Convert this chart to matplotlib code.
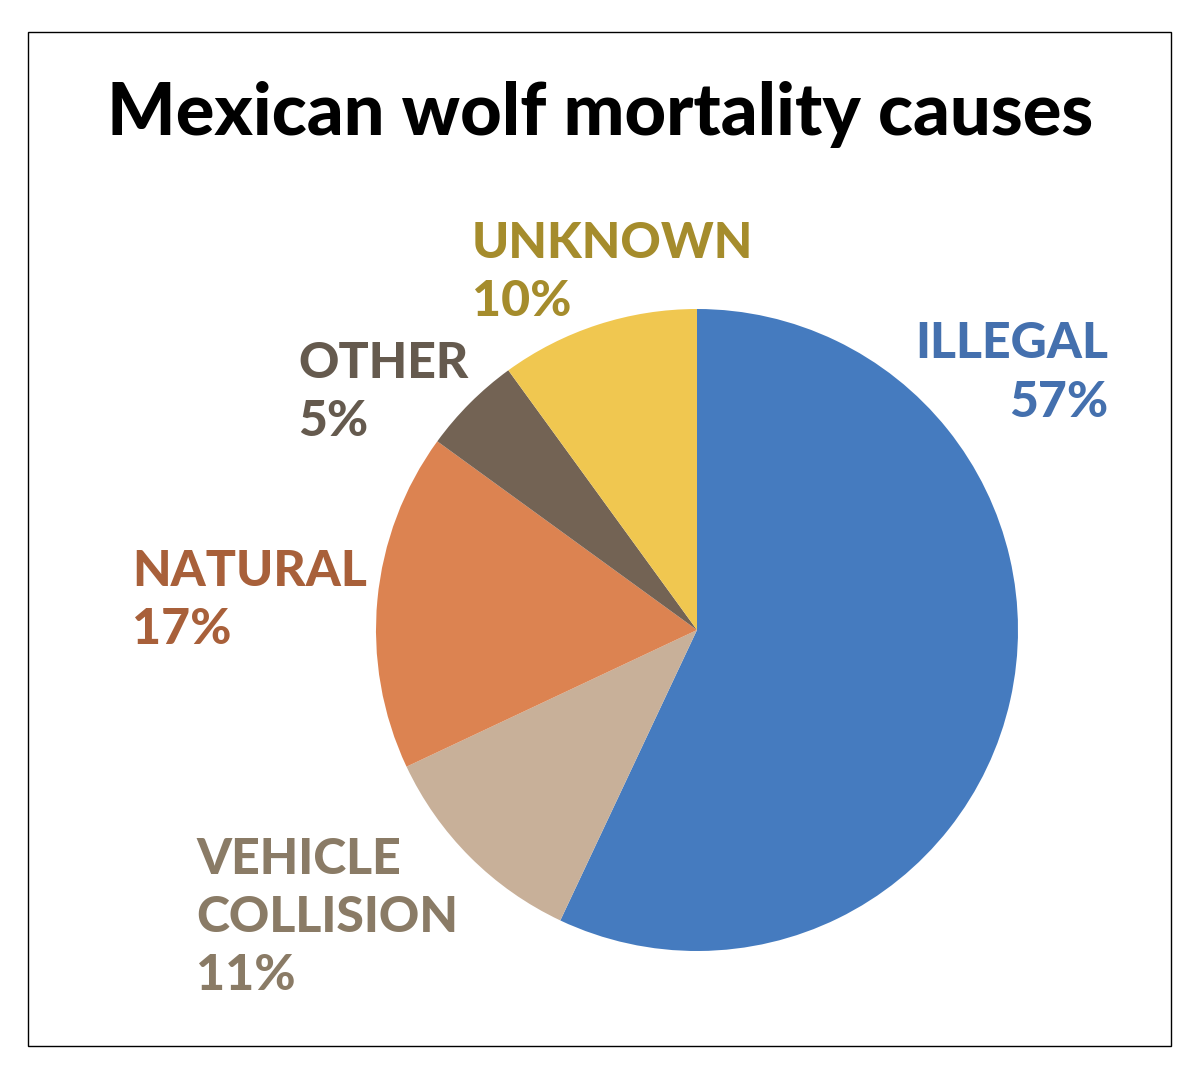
import matplotlib.pyplot as plt
from matplotlib.patches import Rectangle

causes = ["ILLEGAL", "VEHICLE\nCOLLISION", "NATURAL", "OTHER", "UNKNOWN"]
shares = [57, 11, 17, 5, 10]
slice_colors = ["#457BBF", "#C8B099", "#DC8351", "#736354", "#F0C750"]
label_colors = ["#4470AE", "#8A7B66", "#A8603A", "#655A4E", "#A58C2C"]

W, H = 1200, 1073
fig = plt.figure(figsize=(W / 100, H / 100), dpi=100)

# pie centred at (697, 630) px, radius 321 px
cx, cy, r = 697, 630, 321
ax = fig.add_axes([(cx - r) / W, (H - cy - r) / H, 2 * r / W, 2 * r / H])
ax.pie(shares, colors=slice_colors, startangle=90, counterclock=False,
       radius=1, wedgeprops=dict(linewidth=0))
ax.set_xlim(-1, 1)
ax.set_ylim(-1, 1)
ax.set_aspect("equal")
ax.axis("off")

# frame
fig.patches.append(Rectangle((28 / W, 1 - 1046 / H), (1171 - 28) / W, (1046 - 32) / H,
                             transform=fig.transFigure, fill=False,
                             edgecolor="black", linewidth=1))

fig.text(600 / W, 1 - 115 / H, "Mexican wolf mortality causes", ha="center",
         va="center", fontsize=52, fontweight="black", family="Lato", color="black")

# label positions (x px, y px of first line, alignment)
label_pos = [(1108, 344, "right"), (196, 859, "left"), (132, 571, "left"),
             (298, 363, "left"), (472, 244, "left")]
for name, pct, col, (x, y, ha) in zip(causes, shares, label_colors, label_pos):
    lines = name.split("\n") + [f"{pct}%"]
    for i, line in enumerate(lines):
        fig.text(x / W, 1 - (y + i * 58) / H, line, ha=ha, va="center",
                 fontsize=36, fontweight="black", family="Lato", color=col)

fig.savefig("out.png", dpi=100, facecolor="white")
